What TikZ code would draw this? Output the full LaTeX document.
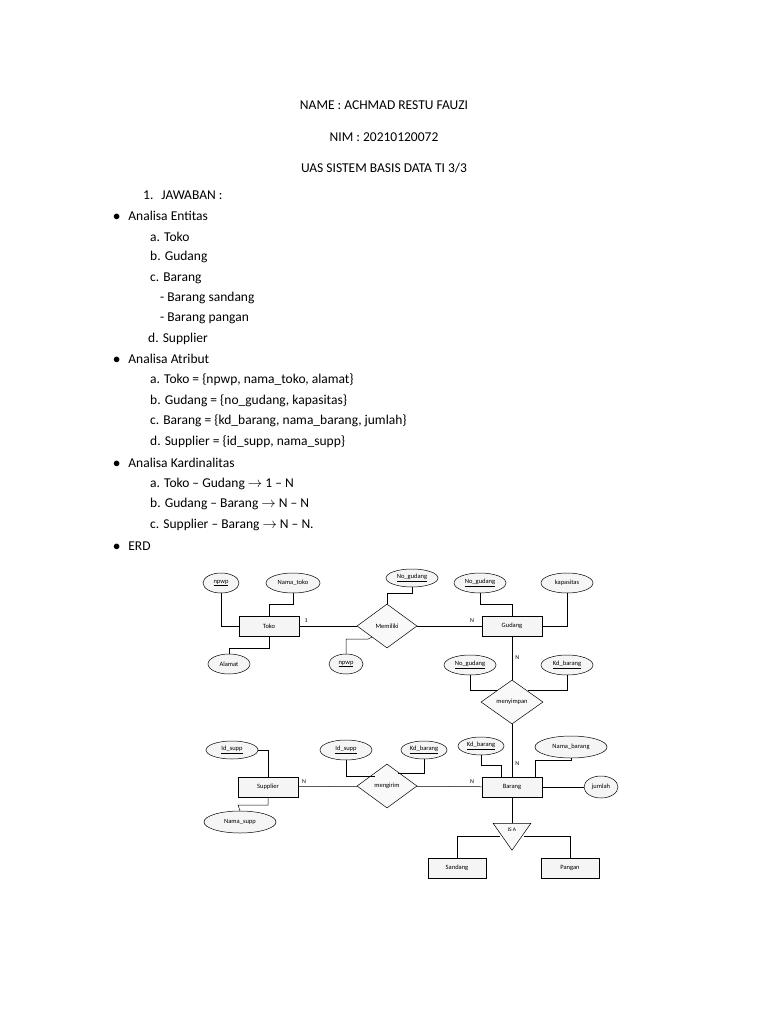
\documentclass[tikz,border=0pt]{standalone}
\usepackage{fontspec}
\setmainfont{Carlito}
\usetikzlibrary{shapes.geometric}
\begin{document}
\begin{tikzpicture}[x=1pt,y=-1pt,
 txt/.style={anchor=west,font=\fontsize{13.5}{15}\selectfont,inner sep=0},
 hdr/.style={font=\fontsize{13.5}{15}\selectfont,inner sep=0},
 ent/.style={draw,fill=gray!8,minimum width=60pt,minimum height=20pt,font=\fontsize{6.5}{7}\selectfont,inner sep=0,line width=0.5pt},
 rel/.style={draw,diamond,aspect=1.4,fill=gray!5,minimum width=60pt,minimum height=44pt,font=\fontsize{6.5}{7}\selectfont,inner sep=0,line width=0.5pt},
 att/.style={draw,ellipse,fill=gray!8,minimum width=50pt,minimum height=20pt,font=\fontsize{6.5}{7}\selectfont,inner sep=0,line width=0.5pt},
 ln/.style={line width=0.5pt},
 card/.style={font=\fontsize{6}{7}\selectfont,inner sep=0}]
\useasboundingbox[fill=white] (0,0) rectangle (768,1024);
\node[hdr] (t1) at (384,105) {NAME : ACHMAD RESTU FAUZI};
\node[hdr] (t2) at (384,137) {NIM : 20210120072};
\node[hdr] (t3) at (384,168) {UAS SISTEM BASIS DATA TI 3/3};
\node[txt] (j0) at (143,195) {1.\hspace{8pt}JAWABAN :};
\node[txt] (b1) at (113,216) {$\bullet$\hspace{8pt}Analisa Entitas};
\node[txt] (e1) at (150,237) {a. Toko};
\node[txt] (e2) at (150,257) {b. Gudang};
\node[txt] (e3) at (150,278) {c. Barang};
\node[txt] (e4) at (160,298) {- Barang sandang};
\node[txt] (e5) at (160,318) {- Barang pangan};
\node[txt] (e6) at (148,339) {d. Supplier};
\node[txt] (b2) at (113,359) {$\bullet$\hspace{8pt}Analisa Atribut};
\node[txt] (a1) at (150,380) {a. Toko = \{npwp, nama\_toko, alamat\}};
\node[txt] (a2) at (150,401) {b. Gudang = \{no\_gudang, kapasitas\}};
\node[txt] (a3) at (150,421) {c. Barang = \{kd\_barang, nama\_barang, jumlah\}};
\node[txt] (a4) at (150,442) {d. Supplier = \{id\_supp, nama\_supp\}};
\node[txt] (b3) at (113,463) {$\bullet$\hspace{8pt}Analisa Kardinalitas};
\node[txt] (k1) at (150,484) {a. Toko -- Gudang $\rightarrow$ 1 -- N};
\node[txt] (k2) at (150,504) {b. Gudang -- Barang $\rightarrow$ N -- N};
\node[txt] (k3) at (150,525) {c. Supplier -- Barang $\rightarrow$ N -- N.};
\node[txt] (b4) at (113,546) {$\bullet$\hspace{8pt}ERD};
% entities
\node[ent] (toko) at (269,626) {Toko};
\node[ent] (gud) at (512,626) {Gudang};
\node[ent] (bar) at (512,787) {Barang};
\node[ent] (sup) at (268,787) {Supplier};
\node[ent,minimum width=58pt] (san) at (457,868) {Sandang};
\node[ent,minimum width=58pt] (pan) at (570,868) {Pangan};
\node[rel] (mem) at (387,626) {Memiliki};
\node[rel,minimum width=62pt] (men) at (512,702) {menyimpan};
\node[rel] (mgr) at (387,786) {mengirim};
\node[draw,isosceles triangle,shape border rotate=-90,isosceles triangle apex angle=70,minimum height=27pt,inner sep=0,fill=gray!5,line width=0.5pt,anchor=north] (isa) at (512,823) {};
\node[font=\fontsize{5.5}{6}\selectfont] (isal) at (512,830) {IS A};
% attributes
\node[att,minimum width=36pt] (a_npwp) at (221,583) {\underline{npwp}};
\node[att,minimum width=54pt] (a_nt) at (293,583) {Nama\_toko};
\node[att,minimum width=42pt] (a_al) at (229,664) {Alamat};
\node[att,minimum width=52pt,minimum height=18pt] (a_ng1) at (412,578) {\underline{No\_gudang}};
\node[att,minimum width=34pt] (a_np2) at (346,664) {\underline{npwp}};
\node[att,minimum width=52pt] (a_ng2) at (480,583) {\underline{No\_gudang}};
\node[att,minimum width=52pt] (a_kap) at (567,583) {kapasitas};
\node[att,minimum width=52pt] (a_ng3) at (470,665) {\underline{No\_gudang}};
\node[att,minimum width=52pt] (a_kb1) at (567,665) {\underline{Kd\_barang}};
\node[att,minimum width=52pt,minimum height=18pt] (a_is1) at (232,750) {\underline{Id\_supp}};
\node[att,minimum width=72pt,minimum height=22pt] (a_ns) at (240,822) {Nama\_supp};
\node[att,minimum width=52pt] (a_is2) at (346,750) {\underline{Id\_supp}};
\node[att,minimum width=46pt,minimum height=18pt] (a_kb2) at (424,750) {\underline{Kd\_barang}};
\node[att,minimum width=46pt,minimum height=18pt] (a_kb3) at (481,746) {\underline{Kd\_barang}};
\node[att,minimum width=72pt,minimum height=22pt] (a_nb) at (571,747) {Nama\_barang};
\node[att,minimum width=34pt,minimum height=22pt] (a_jm) at (601,787) {jumlah};
% connectors
\draw[ln] (toko) -- node[card,pos=0.12,above=3pt] {1} (mem);
\draw[ln] (mem) -- node[card,pos=0.85,above=3pt] {N} (gud);
\draw[ln] (gud) -- node[card,pos=0.5,right=3pt] {N} (men);
\draw[ln] (men) -- node[card,pos=0.75,right=3pt] {N} (bar);
\draw[ln] (sup) -- node[card,pos=0.1,above=3pt] {N} (mgr);
\draw[ln] (mgr) -- node[card,pos=0.85,above=3pt] {N} (bar);
\draw[ln] (bar) -- (isa.north);
\draw[ln] (bar.east) -- (a_jm.west);
\draw[ln] (a_npwp.south) |- (toko.west);
\draw[ln] (a_nt.south) |- (269,604) -- (toko.north);
\draw[ln] (toko.south) |- (229,648) -- (a_al.north);
\draw[ln] (a_ng1.south) |- (387,593) -- (mem.north);
\draw[ln] (mem.south west) -- ++(-4,2) coordinate (c1) -| (a_np2.north);
\draw[ln] (a_ng2.south) |- (512,604) -- (gud.north);
\draw[ln] (a_kap.south) |- (gud.east);
\draw[ln] (a_ng3.south) |- (497,690) coordinate (c2);
\draw[ln] (a_kb1.south) |- (528,690) coordinate (c3);
\draw[ln] (a_is1.east) -| (sup.north);
\draw[ln] (sup.south) |- (238,805) -- (a_ns.north);
\draw[ln] (a_is2.south) |- (375,776) coordinate (c4);
\draw[ln] (a_kb2.south) |- (398,773) coordinate (c5);
\draw[ln] (a_kb3.south) |- (501,765) -- (501,777);
\draw[ln] (a_nb.south) |- (535,760) -- (535,777);
\draw[ln] (san.north) |- (500,836);
\draw[ln] (pan.north) |- (524,836);
\end{tikzpicture}
\end{document}
